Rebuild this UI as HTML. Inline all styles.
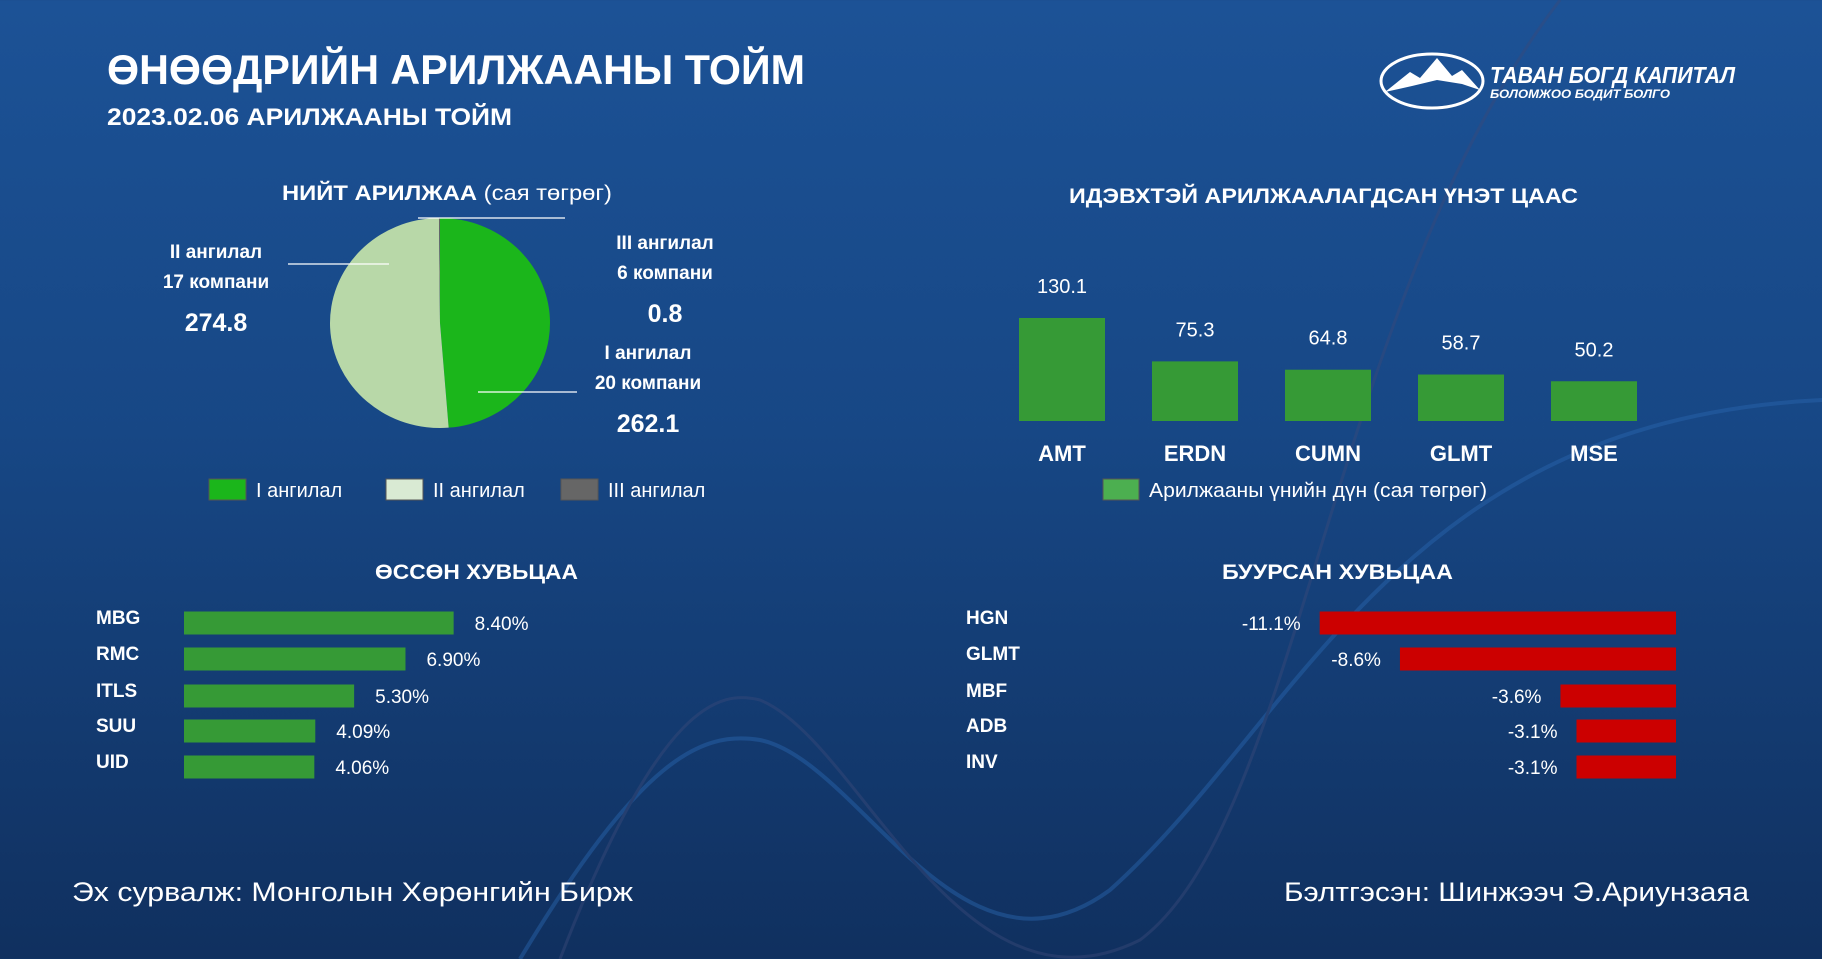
<!DOCTYPE html>
<html><head><meta charset="utf-8"><style>
html,body{margin:0;padding:0;width:1822px;height:959px;overflow:hidden;}
body{background:linear-gradient(180deg,#1c5296 0%,#174785 45%,#10305f 100%);font-family:"Liberation Sans","DejaVu Sans",sans-serif;}
svg text{font-family:"Liberation Sans","DejaVu Sans",sans-serif;fill:#fff;}
</style></head><body>
<svg id="chart" width="1822" height="959" viewBox="0 0 1822 959" xmlns="http://www.w3.org/2000/svg">
<g id="bg" opacity="0.45">
<path d="M520 959 C640 760 700 730 760 740 C860 760 960 1000 1110 890 C1300 720 1400 420 1822 400" fill="none" stroke="#2a67b0" stroke-width="4"/>
<path d="M560 959 C660 700 720 690 760 700 C860 740 960 1030 1140 940 C1300 820 1330 300 1560 0" fill="none" stroke="#3a4a7a" stroke-width="3"/>
</g>
<g id="header">
<text x="107" y="84" font-size="42" font-weight="bold" textLength="698" lengthAdjust="spacingAndGlyphs">ӨНӨӨДРИЙН АРИЛЖААНЫ ТОЙМ</text>
<text x="107" y="125" font-size="24" font-weight="bold" textLength="405" lengthAdjust="spacingAndGlyphs">2023.02.06 АРИЛЖААНЫ ТОЙМ</text>
</g>
<g id="logo">
<ellipse cx="1432" cy="81" rx="51" ry="27" fill="none" stroke="#fff" stroke-width="3"/>
<path d="M1385 92 L1410 72 L1420 78 L1437 58 L1452 76 L1462 70 L1480 90 L1462 84 L1437 80 L1412 86 Z" fill="#fff"/>
<text x="1490" y="83" font-size="23" font-weight="bold" font-style="italic" textLength="245" lengthAdjust="spacingAndGlyphs">ТАВАН БОГД КАПИТАЛ</text>
<text x="1490" y="98" font-size="12" font-weight="bold" font-style="italic" textLength="180" lengthAdjust="spacingAndGlyphs">БОЛОМЖОО БОДИТ БОЛГО</text>
</g>
<g id="pie"></g>
<g id="bars"></g>
<g id="gain"></g>
<g id="lose"></g>
<text x="72" y="901" font-size="27" textLength="561" lengthAdjust="spacingAndGlyphs">Эх сурвалж: Монголын Хөрөнгийн Бирж</text>
<text x="1284" y="901" font-size="27" textLength="465" lengthAdjust="spacingAndGlyphs">Бэлтгэсэн: Шинжээч Э.Ариунзаяа</text>
</svg>
<script>
const NS='http://www.w3.org/2000/svg';
function mk(p,t,a,txt){const e=document.createElementNS(NS,t);for(const k in a)e.setAttribute(k,a[k]);if(txt!==undefined)e.textContent=txt;p.appendChild(e);return e;}

// PIE DATA
const pieCats=['I ангилал','II ангилал','III ангилал'];
const pieVals=[262.1,274.8,0.8];
const pieCounts=['20 компани','17 компани','6 компани'];
const pieColors=['#1bb61b','#b8d8a8','#666666'];
const legendColors=['#1bb61b','#d9ead3','#666666'];

const pie=document.getElementById('pie');
const t0=mk(pie,'text',{x:282,y:200,'font-size':21,'font-weight':'bold',textLength:330,lengthAdjust:'spacingAndGlyphs'});


mk(t0,'tspan',{},'НИЙТ АРИЛЖАА ');
mk(t0,'tspan',{'font-weight':'normal'},'(сая төгрөг)');
const cx=440,cy=323,rx=110,ry=105;
const tot=pieVals.reduce((a,b)=>a+b,0);
let ang=0;
pieVals.forEach((v,i)=>{
  const a0=ang, a1=ang+v/tot*2*Math.PI; ang=a1;
  const x0=cx+rx*Math.sin(a0),y0=cy-ry*Math.cos(a0),x1=cx+rx*Math.sin(a1),y1=cy-ry*Math.cos(a1);
  const large=(a1-a0)>Math.PI?1:0;
  const s=mk(pie,'path',{d:`M${cx},${cy} L${x0},${y0} A${rx},${ry} 0 ${large} 1 ${x1},${y1} Z`,fill:pieColors[i]});
  
  
});
const labPos=[[648,352,478,577,392],[216,251,288,389,264],[665,242,418,565,218]];
pieCats.forEach((c,i)=>{
  const [x,y,l0,l1,ly]=labPos[i];
  const g=mk(pie,'g',{});
  
  
  mk(g,'line',{x1:l0,x2:l1,y1:ly,y2:ly,stroke:'#fff','stroke-width':1.2});
  mk(g,'text',{x:x,y:y+7,'font-size':19,'font-weight':'bold','text-anchor':'middle'},c);
  mk(g,'text',{x:x,y:y+37,'font-size':19,'font-weight':'bold','text-anchor':'middle'},pieCounts[i]);
  mk(g,'text',{x:x,y:y+80,'font-size':25,'font-weight':'bold','text-anchor':'middle'},pieVals[i].toFixed(1));
});
const legX=[209,386,561];
pieCats.forEach((c,i)=>{
  const g=mk(pie,'g',{});
  
  
  mk(g,'rect',{x:legX[i],y:479,width:37,height:21,fill:legendColors[i],stroke:'#555','stroke-width':1});
  mk(g,'text',{x:legX[i]+47,y:497,'font-size':20},c);
});

// BAR DATA
const barCats=['AMT','ERDN','CUMN','GLMT','MSE'];
const barVals=[130.1,75.3,64.8,58.7,50.2];
const bars=document.getElementById('bars');
const bt=mk(bars,'text',{x:1069,y:203,'font-size':21,'font-weight':'bold',textLength:509,lengthAdjust:'spacingAndGlyphs'},'ИДЭВХТЭЙ АРИЛЖААЛАГДСАН ҮНЭТ ЦААС');


const bBase=421,bScale=103/130.1,bX0=1019,bStep=133,bW=86;
barCats.forEach((c,i)=>{
  const h=barVals[i]*bScale,x=bX0+i*bStep;
  const r=mk(bars,'rect',{x:x,y:bBase-h,width:bW,height:h,fill:'#369a36'});
  
  
  const v=mk(bars,'text',{x:x+bW/2,y:bBase-h-25,'font-size':20,'text-anchor':'middle'},barVals[i].toFixed(1));
  
  
  const l=mk(bars,'text',{x:x+bW/2,y:461,'font-size':22,'font-weight':'bold','text-anchor':'middle'},c);
  
  
});
const bl=mk(bars,'g',{});


mk(bl,'rect',{x:1103,y:479,width:36,height:21,fill:'#4caf50',stroke:'#555'});
mk(bl,'text',{x:1149,y:497,'font-size':20,textLength:338,lengthAdjust:'spacingAndGlyphs'},'Арилжааны үнийн дүн (сая төгрөг)');

// GAINERS DATA
const gainCats=['MBG','RMC','ITLS','SUU','UID'];
const gainVals=[8.40,6.90,5.30,4.09,4.06];
// LOSERS DATA
const loseCats=['HGN','GLMT','MBF','ADB','INV'];
const loseVals=[-11.1,-8.6,-3.6,-3.1,-3.1];
const rowY=[623,659,696,731,767];
const hScale=32.1,barH=23;

const gain=document.getElementById('gain');
const gt=mk(gain,'text',{x:375,y:579,'font-size':21,'font-weight':'bold',textLength:203,lengthAdjust:'spacingAndGlyphs'},'ӨССӨН ХУВЬЦАА');


gainCats.forEach((c,i)=>{
  const w=gainVals[i]*hScale,y=rowY[i];
  const l=mk(gain,'text',{x:96,y:y+1,'font-size':19,'font-weight':'bold'},c);
  
  
  const r=mk(gain,'rect',{x:184,y:y-barH/2,width:w,height:barH,fill:'#369a36'});
  
  
  const v=mk(gain,'text',{x:184+w+21,y:y+7,'font-size':19},gainVals[i].toFixed(2)+'%');
  
  
});

const lose=document.getElementById('lose');
const lt=mk(lose,'text',{x:1222,y:579,'font-size':21,'font-weight':'bold',textLength:231,lengthAdjust:'spacingAndGlyphs'},'БУУРСАН ХУВЬЦАА');


const lEnd=1676;
loseCats.forEach((c,i)=>{
  const w=Math.abs(loseVals[i])*hScale,y=rowY[i];
  const l=mk(lose,'text',{x:966,y:y+1,'font-size':19,'font-weight':'bold'},c);
  
  
  const r=mk(lose,'rect',{x:lEnd-w,y:y-barH/2,width:w,height:barH,fill:'#cc0000'});
  
  
  const v=mk(lose,'text',{x:lEnd-w-19,y:y+7,'font-size':19,'text-anchor':'end'},loseVals[i].toFixed(1)+'%');
  
  
});
</script>
</body></html>
